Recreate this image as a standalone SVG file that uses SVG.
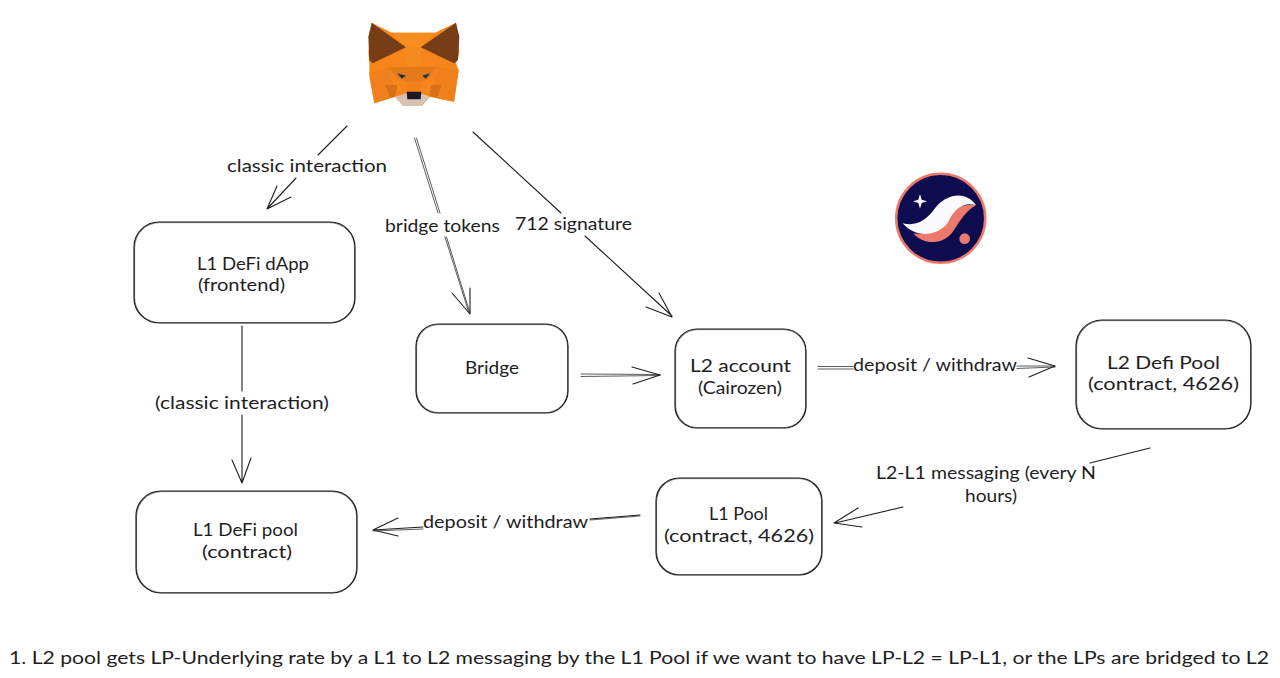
<svg xmlns="http://www.w3.org/2000/svg" width="1280" height="678" viewBox="0 0 1280 678">
<style>
text{font-family:"Lato","Liberation Sans",sans-serif;font-size:18px;fill:#1e1e1e;}
.b{fill:#fff;stroke:#1e1e1e;stroke-width:1.2;}
.b2{fill:none;stroke:#1e1e1e;stroke-width:.6;}
.c{fill:none;stroke:#1e1e1e;stroke-width:1.1;stroke-linecap:round;stroke-linejoin:round;}
.d{fill:none;stroke:#333;stroke-width:.8;stroke-linecap:round;}
</style>
<rect width="1280" height="678" fill="#fff"/>
<g id="metamask" transform="translate(350 10) scale(.33333)">
<polygon points="65,38 125,68 255,68 318,38 328,130 318,160 326,180 312,275 240,260 215,288 160,288 135,260 73,280 58,200 58,160 55,130" fill="#f6851b"/>
<polygon points="125,68 255,68 212,112 168,112" fill="#f98d1f"/>
<polygon points="168,112 212,112 214,170 170,170" fill="#f58a1e"/>
<polygon points="170,170 214,170 212,250 170,250" fill="#f28119"/>
<polygon points="58,190 118,172 135,260 73,280" fill="#f0801b"/>
<polygon points="326,180 262,172 240,260 312,275" fill="#f0801b"/>
<polygon points="115,172 262,170 236,205 212,215 170,215 142,205" fill="#e57a1d"/>
<polygon points="105,225 142,225 135,260 120,262" fill="#d96f16"/>
<polygon points="242,225 275,225 262,262 240,258" fill="#d96f16"/>
<polygon points="65,38 168,112 68,160 58,150 55,80" fill="#763d16"/>
<polygon points="318,38 212,112 312,160 324,150 328,80" fill="#763d16"/>
<polygon points="135,260 170,250 212,250 240,260 215,288 160,288" fill="#d7c1b3"/>
<polygon points="170,245 214,245 212,268 172,268" fill="#1a1a24"/>
<polygon points="142,190 168,197 155,206" fill="#233447"/>
<polygon points="240,190 216,197 228,206" fill="#233447"/>
</g>
<g id="starknet">
<circle cx="940.700" cy="218.300" r="44.500" fill="#0c0c4f" stroke="#ec796b" stroke-width="2.500"/>
<g transform="translate(880 160) scale(.33333)">
<path d="M100 220C125 250 175 258 210 225C230 205 245 160 288 135C250 130 215 145 200 180C175 220 135 225 100 220Z" fill="#ec796b"/>
<path d="M68 190C110 200 140 180 165 145C190 110 250 85 288 135C250 125 225 145 205 185C180 225 110 240 68 190Z" fill="#fafaff"/>
<path d="M120 102L125 119L141 124L125 129L120 146L115 129L99 124L115 119Z" fill="#fafaff"/>
<circle cx="254" cy="236" r="16" fill="#ec796b"/>
</g>
</g>
<g id="connectors">
<path class="c" d="M347 126L318 155M296 178L267 209M277 186L267 209L291 197"/>
<path class="d" d="M414.500 138L438 213M416.500 138L440 213M445 237L469 313M446.500 237L470 313"/>
<path class="c" d="M452 293L470 314L470 288"/>
<path class="c" d="M473 132L561 213M585 236L672 316M659 293L672 317L646 307"/>
<path class="d" d="M581 374L660 374.500M581 376.500L660 375.500"/>
<path class="c" d="M632 367L660 375L633 384"/>
<path class="c" d="M242 326L242 391M242 415L242 483M232 460L242 483L251 458"/>
<path class="d" d="M818 366.500L853 366.500M818 369L853 369M1017 366L1055 366M1017 368.500L1055 367"/>
<path class="c" d="M1028 358L1055 366L1029 377"/>
<path class="c" d="M1150 448L1090 463M903 507L835 523M858 508L834 523L862 527"/>
<path class="c" d="M640 515L590 519M423 527L373 530M398 518L373 530L398 536"/>
<path class="d" d="M640 516L590 520M423 529L373 531"/>
</g>
<g id="l1-dapp">
<rect class="b" x="134" y="222" width="221" height="101" rx="25"/><rect class="b2" x="134.600" y="222.600" width="220" height="100" rx="25"/>
<text x="197" y="270" textLength="112" lengthAdjust="spacingAndGlyphs">L1 DeFi dApp</text>
<text x="198" y="291" textLength="87" lengthAdjust="spacingAndGlyphs">(frontend)</text>
</g>
<g id="bridge">
<rect class="b" x="416" y="324" width="152" height="89" rx="22"/><rect class="b2" x="416.600" y="324.600" width="151" height="88" rx="22"/>
<text x="465" y="374" textLength="54" lengthAdjust="spacingAndGlyphs">Bridge</text>
</g>
<g id="l2-account">
<rect class="b" x="675" y="329" width="131" height="99" rx="22"/><rect class="b2" x="675.600" y="329.600" width="130" height="98" rx="22"/>
<text x="690" y="372" textLength="101" lengthAdjust="spacingAndGlyphs">L2 account</text>
<text x="698" y="394" textLength="84" lengthAdjust="spacingAndGlyphs">(Cairozen)</text>
</g>
<g id="l2-pool">
<rect class="b" x="1076" y="320" width="175" height="109" rx="26"/><rect class="b2" x="1076.600" y="320.600" width="174" height="108" rx="26"/>
<text x="1107" y="369" textLength="113" lengthAdjust="spacingAndGlyphs">L2 Defi Pool</text>
<text x="1088" y="390" textLength="151" lengthAdjust="spacingAndGlyphs">(contract, 4626)</text>
</g>
<g id="l1-pool">
<rect class="b" x="656" y="478" width="166" height="97" rx="23"/><rect class="b2" x="656.600" y="478.600" width="165" height="96" rx="23"/>
<text x="709" y="520" textLength="59" lengthAdjust="spacingAndGlyphs">L1 Pool</text>
<text x="664" y="542" textLength="150" lengthAdjust="spacingAndGlyphs">(contract, 4626)</text>
</g>
<g id="l1-pool-defi">
<rect class="b" x="136" y="491" width="221" height="102" rx="25"/><rect class="b2" x="136.600" y="491.600" width="220" height="101" rx="25"/>
<text x="193" y="536" textLength="105" lengthAdjust="spacingAndGlyphs">L1 DeFi pool</text>
<text x="202" y="558" textLength="90" lengthAdjust="spacingAndGlyphs">(contract)</text>
</g>
<g id="labels">
<text x="227" y="172" textLength="160" lengthAdjust="spacingAndGlyphs">classic interaction</text>
<text x="385" y="232" textLength="115" lengthAdjust="spacingAndGlyphs">bridge tokens</text>
<text x="515" y="230" textLength="117" lengthAdjust="spacingAndGlyphs">712 signature</text>
<text x="155" y="409" textLength="174" lengthAdjust="spacingAndGlyphs">(classic interaction)</text>
<text x="853" y="371" textLength="164" lengthAdjust="spacingAndGlyphs">deposit / withdraw</text>
<text x="876" y="479" textLength="220" lengthAdjust="spacingAndGlyphs">L2-L1 messaging (every N</text>
<text x="965" y="502" textLength="52" lengthAdjust="spacingAndGlyphs">hours)</text>
<text x="423" y="528" textLength="165" lengthAdjust="spacingAndGlyphs">deposit / withdraw</text>
<text x="9" y="664" textLength="1260" lengthAdjust="spacingAndGlyphs">1. L2 pool gets LP-Underlying rate by a L1 to L2 messaging by the L1 Pool if we want to have LP-L2 = LP-L1, or the LPs are bridged to L2</text>
</g>
</svg>
